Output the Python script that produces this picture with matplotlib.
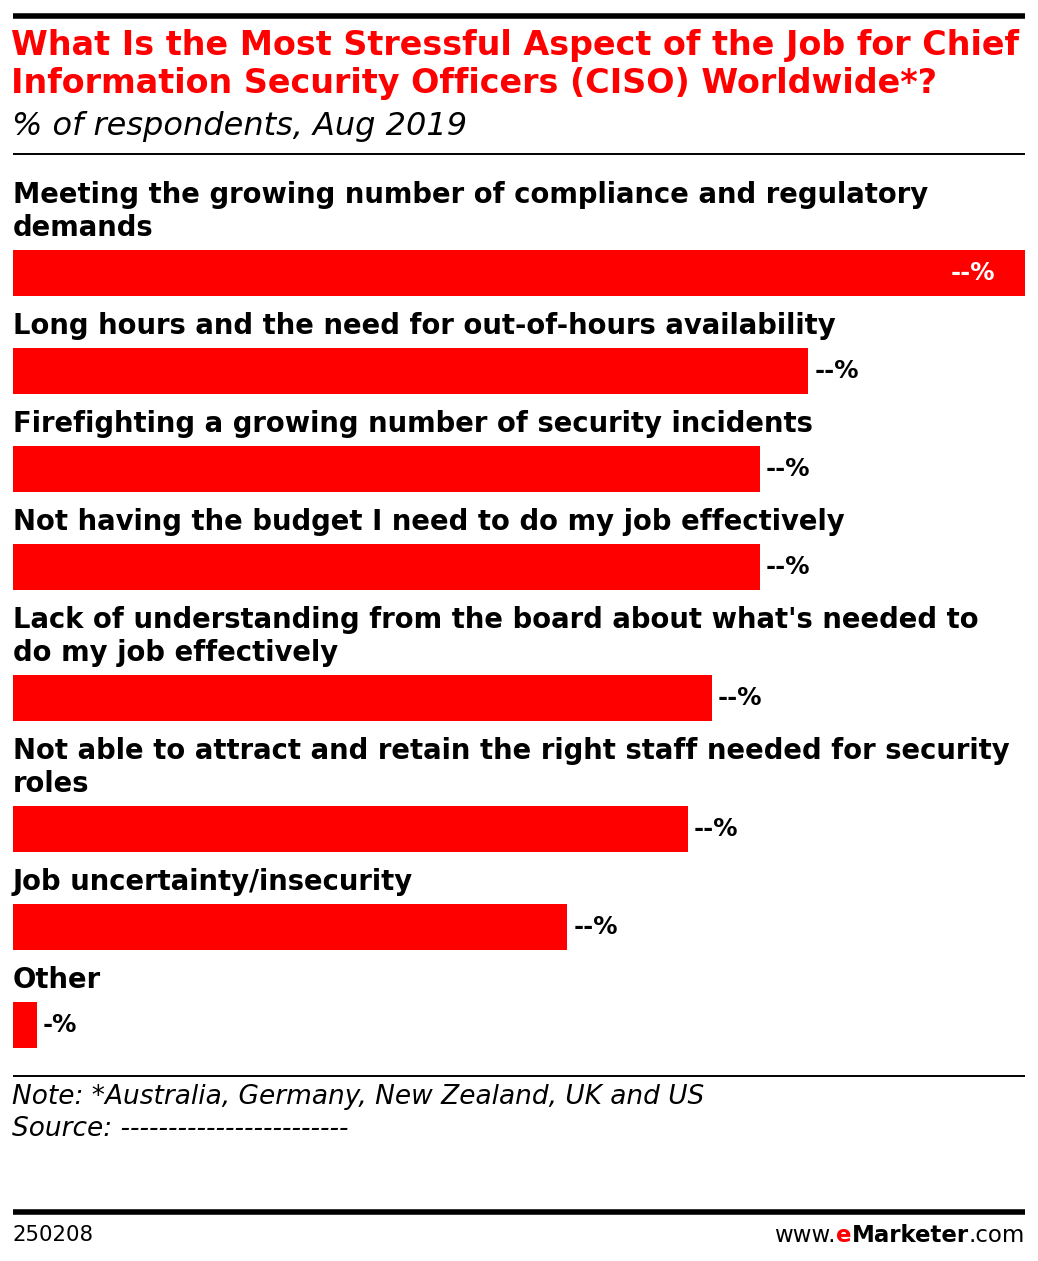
import matplotlib
matplotlib.use("Agg")
import matplotlib.pyplot as plt
from matplotlib.lines import Line2D

# ---- data ----
categories = [
    "Meeting the growing number of compliance and regulatory\ndemands",
    "Long hours and the need for out-of-hours availability",
    "Firefighting a growing number of security incidents",
    "Not having the budget I need to do my job effectively",
    "Lack of understanding from the board about what's needed to\ndo my job effectively",
    "Not able to attract and retain the right staff needed for security\nroles",
    "Job uncertainty/insecurity",
    "Other",
]
values = [42, 33, 31, 31, 29, 28, 23, 1]
value_labels = ["--%", "--%", "--%", "--%", "--%", "--%", "--%", "-%"]

title_lines = ["What Is the Most Stressful Aspect of the Job for Chief",
               "Information Security Officers (CISO) Worldwide*?"]
subtitle = "% of respondents, Aug 2019"
note = "Note: *Australia, Germany, New Zealand, UK and US"
source = "Source: ------------------------"
chart_id = "250208"

RED = "#ff0000"
W, H = 1038, 1261
fig = plt.figure(figsize=(W / 100, H / 100), dpi=100)
fig.patch.set_facecolor("white")

def fx(px):
    return px / W

def fy(py):
    return 1 - py / H

def hline(y, lw, x0=13, x1=1025):
    fig.add_artist(Line2D([fx(x0), fx(x1)], [fy(y), fy(y)], color="black", lw=lw, solid_capstyle="butt"))

# header
hline(16, 4.0)
for i, tl in enumerate(title_lines):
    fig.text(fx(11), fy(45 + 39 * i), tl, color=RED, fontsize=24, fontweight="bold",
             va="center", ha="left", family="DejaVu Sans")
fig.text(fx(12), fy(127), subtitle, color="black", fontsize=23, style="italic",
         va="center", ha="left", family="DejaVu Sans")
hline(154, 1.4)

# main axes: data y = pixel y
top_px, bot_px = 160, 1060
ax = fig.add_axes([fx(13), fy(bot_px), fx(1025) - fx(13), (bot_px - top_px) / H])
ax.set_ylim(bot_px, top_px)
ax.set_xlim(0, max(values))
ax.axis("off")

line_h = 33
bar_h = 46
cur = 165
bar_centers = []
label_pos = []
for cat in categories:
    lines = cat.split("\n")
    cur += 30
    label_pos.append([cur + line_h * k for k in range(len(lines))])
    last = cur + line_h * (len(lines) - 1)
    bar_top = last + 22
    bar_centers.append(bar_top + bar_h / 2)
    cur = bar_top + bar_h

ax.barh(bar_centers, values, height=bar_h, color=RED, edgecolor="none")

for cat, lys in zip(categories, label_pos):
    for line, ly in zip(cat.split("\n"), lys):
        ax.text(0, ly, line, fontsize=19.8, fontweight="bold", va="center", ha="left",
                color="black", family="DejaVu Sans", clip_on=False)

for i, (v, lab, yc) in enumerate(zip(values, value_labels, bar_centers)):
    if i == 0:
        ax.annotate(lab, (v, yc), xytext=(-30, 0), textcoords="offset pixels",
                    ha="right", va="center", fontsize=17.5, fontweight="bold", color="white")
    else:
        ax.annotate(lab, (v, yc), xytext=(6, 0), textcoords="offset pixels",
                    ha="left", va="center", fontsize=17.5, fontweight="bold", color="black")

# footer
hline(1076, 1.4)
fig.text(fx(12), fy(1097), note, fontsize=19, style="italic",
         va="center", ha="left", family="DejaVu Sans")
fig.text(fx(12), fy(1129), source, fontsize=19, style="italic",
         va="center", ha="left", family="DejaVu Sans")
hline(1212, 4.0)
fig.text(fx(12), fy(1235), chart_id, fontsize=15.3, va="center", ha="left")

renderer = fig.canvas.get_renderer()
x_right = 1025
pieces = [(".com", "normal", "black"), ("Marketer", "bold", "black"),
          ("e", "bold", RED), ("www.", "normal", "black")]
for txt, wt, col in pieces:
    t = fig.text(fx(x_right), fy(1235), txt, fontsize=16.5, fontweight=wt, color=col,
                 ha="right", va="center")
    bb = t.get_window_extent(renderer)
    x_right -= bb.width

fig.savefig("out.png", dpi=100, facecolor="white")
